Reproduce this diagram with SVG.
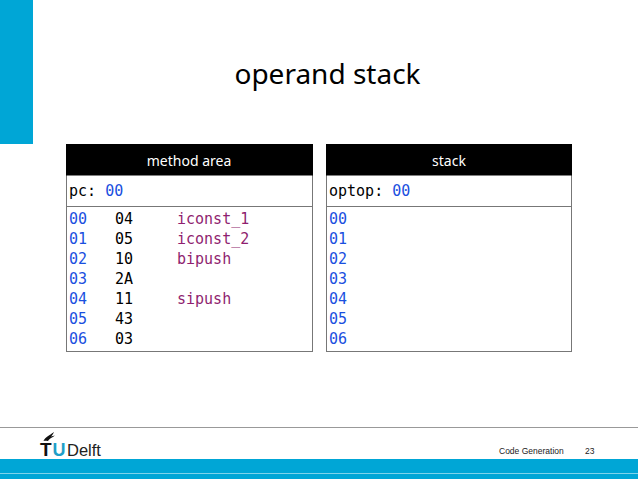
<svg xmlns="http://www.w3.org/2000/svg" width="638" height="479" viewBox="0 0 638 479">
<style>
.m{font-family:"DejaVu Sans Mono","Liberation Mono",monospace;font-size:15px;fill:#000}
.a{fill:#1a4fe0}
.p{fill:#8f1f70}
.h{font-family:"Noto Sans","DejaVu Sans",sans-serif;font-size:14px;fill:#fff;text-anchor:middle}
.box{fill:#fff;stroke:#777;stroke-width:1}
.f{font-family:"Liberation Sans",Arial,sans-serif;font-size:8.500px;fill:#222}
</style>
<rect width="638" height="479" fill="#fff"/>
<rect x="0" y="0" width="33" height="144" fill="#00a6d6"/>
<text x="327.500" y="84" text-anchor="middle" font-family="Noto Sans,DejaVu Sans,sans-serif" font-size="28px" fill="#000">operand stack</text>
<g id="method-area">
<rect class="box" x="66.500" y="144.500" width="246" height="207"/>
<rect x="66" y="144" width="247" height="31.500" fill="#000"/>
<line x1="66" y1="206.500" x2="313" y2="206.500" stroke="#777"/>
<text class="h" x="189" y="166">method area</text>
<text class="m" x="69" y="196">pc: <tspan class="a">00</tspan></text>
<text class="m a" x="69" y="224">00</text><text class="m" x="115" y="224">04</text><text class="m p" x="177" y="224">iconst_1</text>
<text class="m a" x="69" y="244">01</text><text class="m" x="115" y="244">05</text><text class="m p" x="177" y="244">iconst_2</text>
<text class="m a" x="69" y="264">02</text><text class="m" x="115" y="264">10</text><text class="m p" x="177" y="264">bipush</text>
<text class="m a" x="69" y="284">03</text><text class="m" x="115" y="284">2A</text>
<text class="m a" x="69" y="304">04</text><text class="m" x="115" y="304">11</text><text class="m p" x="177" y="304">sipush</text>
<text class="m a" x="69" y="324">05</text><text class="m" x="115" y="324">43</text>
<text class="m a" x="69" y="344">06</text><text class="m" x="115" y="344">03</text>
</g>
<g id="stack">
<rect class="box" x="326.500" y="144.500" width="245" height="207"/>
<rect x="326" y="144" width="246" height="31.500" fill="#000"/>
<line x1="326" y1="206.500" x2="572" y2="206.500" stroke="#777"/>
<text class="h" x="449" y="166">stack</text>
<text class="m" x="329" y="196">optop: <tspan class="a">00</tspan></text>
<text class="m a" x="329" y="224">00</text>
<text class="m a" x="329" y="244">01</text>
<text class="m a" x="329" y="264">02</text>
<text class="m a" x="329" y="284">03</text>
<text class="m a" x="329" y="304">04</text>
<text class="m a" x="329" y="324">05</text>
<text class="m a" x="329" y="344">06</text>
</g>
<g id="footer">
<line x1="0" y1="427.500" x2="638" y2="427.500" stroke="#999" stroke-width="1"/>
<rect x="0" y="459" width="638" height="20" fill="#00a6d6"/>
<line x1="0" y1="473.500" x2="638" y2="473.500" stroke="#7fd3ea" stroke-width="1"/>
<path d="M43.500 441 C45 437 49 436 54 432 C53 434.500 52 435.500 51 436.500 L55 435.500 C52 438 50 438 48 441 C46 440.500 45 440.500 43.500 441Z" fill="#111"/>
<text x="40" y="456" font-family="Liberation Sans,sans-serif" font-weight="bold" font-size="19px" fill="#111">T</text>
<text x="52.500" y="456" font-family="Liberation Sans,sans-serif" font-weight="bold" font-size="18px" fill="#1f9fc8">U</text>
<text x="67" y="456" font-family="Liberation Sans,sans-serif" font-size="16.500px" fill="#222">Delft</text>
<text class="f" x="499" y="454">Code Generation</text>
<text class="f" x="585" y="454">23</text>
</g>
</svg>
